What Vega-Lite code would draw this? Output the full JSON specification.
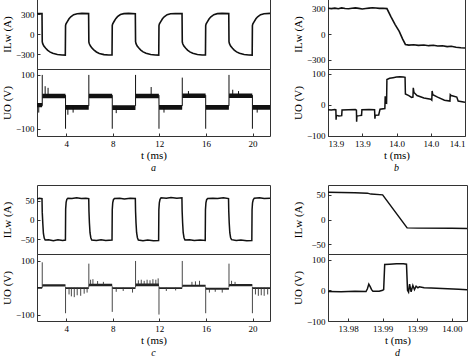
{
"$schema": "https://vega.github.io/schema/vega-lite/v6.json",
"padding": {"left": 0, "top": -2, "right": 0, "bottom": 0},
"background": "white",
"config": {
  "font": "Liberation Serif",
  "view": {"stroke": "#333", "strokeWidth": 1},
  "axis": {"grid": false, "domain": false, "ticks": true, "tickSize": -3, "tickColor": "#333", "labelFontSize": 9, "labelColor": "#000", "titleFontSize": 11, "titleFontWeight": "normal", "titleColor": "#000", "labelPadding": 6, "titlePadding": 1},
  "axisY": {"titleX": -25},
  "title": {"fontSize": 10, "fontStyle": "italic", "fontWeight": "normal", "font": "Liberation Serif", "offset": 3, "color": "#000"}
},
"datasets": {
  "aI": [
    {"t":1.5,"v":306},{"t":1.7,"v":305},{"t":1.93,"v":305},
    {"t":1.95,"v":-115},{"t":1.99,"v":-145},{"t":2.09,"v":-180},{"t":2.25,"v":-215},{"t":2.4,"v":-242},{"t":2.6,"v":-268},{"t":2.85,"v":-290},{"t":3.25,"v":-308},{"t":3.65,"v":-315},{"t":3.93,"v":-316},
    {"t":3.95,"v":125},{"t":3.99,"v":152},{"t":4.09,"v":182},{"t":4.25,"v":228},{"t":4.4,"v":258},{"t":4.65,"v":290},{"t":4.95,"v":304},{"t":5.35,"v":309},{"t":5.93,"v":306},
    {"t":5.95,"v":-118},{"t":5.99,"v":-146},{"t":6.09,"v":-182},{"t":6.25,"v":-216},{"t":6.4,"v":-243},{"t":6.6,"v":-270},{"t":6.85,"v":-291},{"t":7.25,"v":-309},{"t":7.65,"v":-316},{"t":7.94,"v":-315},
    {"t":7.96,"v":128},{"t":8.0,"v":154},{"t":8.1,"v":184},{"t":8.26,"v":230},{"t":8.41,"v":260},{"t":8.66,"v":291},{"t":8.96,"v":305},{"t":9.36,"v":309},{"t":9.94,"v":305},
    {"t":9.96,"v":-116},{"t":10.0,"v":-145},{"t":10.1,"v":-180},{"t":10.26,"v":-214},{"t":10.41,"v":-241},{"t":10.61,"v":-268},{"t":10.86,"v":-290},{"t":11.26,"v":-308},{"t":11.66,"v":-315},{"t":11.95,"v":-316},
    {"t":11.97,"v":126},{"t":12.01,"v":152},{"t":12.11,"v":183},{"t":12.27,"v":229},{"t":12.42,"v":259},{"t":12.67,"v":290},{"t":12.97,"v":304},{"t":13.37,"v":308},{"t":13.95,"v":306},
    {"t":13.97,"v":-117},{"t":14.01,"v":-146},{"t":14.11,"v":-181},{"t":14.27,"v":-215},{"t":14.42,"v":-242},{"t":14.62,"v":-269},{"t":14.87,"v":-290},{"t":15.27,"v":-308},{"t":15.67,"v":-316},{"t":15.96,"v":-315},
    {"t":15.98,"v":127},{"t":16.02,"v":153},{"t":16.12,"v":183},{"t":16.28,"v":229},{"t":16.43,"v":259},{"t":16.68,"v":290},{"t":16.98,"v":305},{"t":17.38,"v":309},{"t":17.96,"v":306},
    {"t":17.98,"v":-116},{"t":18.02,"v":-145},{"t":18.12,"v":-180},{"t":18.28,"v":-214},{"t":18.43,"v":-242},{"t":18.63,"v":-268},{"t":18.88,"v":-290},{"t":19.28,"v":-308},{"t":19.68,"v":-315},{"t":19.97,"v":-316},
    {"t":19.99,"v":126},{"t":20.03,"v":152},{"t":20.13,"v":182},{"t":20.29,"v":228},{"t":20.44,"v":258},{"t":20.69,"v":290},{"t":20.99,"v":304},{"t":21.5,"v":309}
  ],
  "aUb": [
    {"t":1.5,"lo":-20,"hi":-4},{"t":1.94,"lo":-20,"hi":-4},{"t":1.96,"lo":13,"hi":30},{"t":3.94,"lo":13,"hi":30},
    {"t":3.96,"lo":-29,"hi":-12},{"t":5.94,"lo":-29,"hi":-12},{"t":5.96,"lo":13,"hi":30},{"t":7.95,"lo":13,"hi":30},
    {"t":7.97,"lo":-30,"hi":-13},{"t":9.95,"lo":-30,"hi":-13},{"t":9.97,"lo":13,"hi":30},{"t":11.96,"lo":13,"hi":30},
    {"t":11.98,"lo":-29,"hi":-12},{"t":13.96,"lo":-29,"hi":-12},{"t":13.98,"lo":14,"hi":31},{"t":15.97,"lo":14,"hi":31},
    {"t":15.99,"lo":-29,"hi":-12},{"t":17.97,"lo":-29,"hi":-12},{"t":17.99,"lo":14,"hi":31},{"t":19.98,"lo":14,"hi":31},
    {"t":20.0,"lo":-29,"hi":-12},{"t":21.5,"lo":-29,"hi":-12}
  ],
  "aUs": [
    {"t":1.95,"lo":-15,"hi":100},{"t":2.2,"lo":25,"hi":58},{"t":2.45,"lo":25,"hi":52},{"t":1.65,"lo":-40,"hi":-10},
    {"t":3.95,"lo":-100,"hi":25},{"t":4.15,"lo":-48,"hi":-15},{"t":4.6,"lo":-40,"hi":-15},{"t":5.95,"lo":-15,"hi":100},
    {"t":7.96,"lo":-100,"hi":25},{"t":8.3,"lo":-42,"hi":-15},{"t":9.96,"lo":-15,"hi":100},{"t":11.3,"lo":25,"hi":55},
    {"t":11.97,"lo":-100,"hi":25},{"t":12.4,"lo":-40,"hi":-15},{"t":13.97,"lo":-15,"hi":90},{"t":14.5,"lo":25,"hi":40},
    {"t":15.98,"lo":-100,"hi":25},{"t":17.98,"lo":-15,"hi":100},{"t":18.3,"lo":25,"hi":45},{"t":18.8,"lo":25,"hi":40},
    {"t":19.99,"lo":-100,"hi":25},{"t":20.4,"lo":-40,"hi":-15}
  ],
  "bI": [
    {"t":13.9,"v":300},{"t":13.905,"v":296},{"t":13.91,"v":302},{"t":13.915,"v":295},{"t":13.92,"v":304},{"t":13.925,"v":298},{"t":13.93,"v":295},{"t":13.935,"v":301},{"t":13.94,"v":305},{"t":13.945,"v":299},{"t":13.95,"v":292},{"t":13.955,"v":297},{"t":13.96,"v":302},{"t":13.965,"v":306},{"t":13.97,"v":303},{"t":13.975,"v":299},{"t":13.98,"v":301},{"t":13.986,"v":296},
    {"t":13.992,"v":200},{"t":13.998,"v":110},{"t":14.004,"v":30},{"t":14.009,"v":-60},{"t":14.013,"v":-122},
    {"t":14.018,"v":-130},{"t":14.025,"v":-126},{"t":14.032,"v":-133},{"t":14.04,"v":-128},{"t":14.047,"v":-136},{"t":14.054,"v":-131},{"t":14.06,"v":-140},{"t":14.067,"v":-137},{"t":14.074,"v":-147},{"t":14.08,"v":-143},{"t":14.087,"v":-155},{"t":14.094,"v":-160},{"t":14.1,"v":-163}
  ],
  "bU": [
    {"t":13.9,"v":-16},{"t":13.905,"v":-17},{"t":13.91,"v":-15},{"t":13.9115,"v":-16},{"t":13.9118,"v":-48},{"t":13.9122,"v":-34},{"t":13.916,"v":-36},{"t":13.92,"v":-35},{"t":13.9205,"v":-17},
    {"t":13.93,"v":-16},{"t":13.94,"v":-15},{"t":13.9415,"v":-17},{"t":13.9418,"v":-55},{"t":13.9422,"v":-36},{"t":13.946,"v":-35},{"t":13.949,"v":-34},{"t":13.9495,"v":-16},
    {"t":13.96,"v":-15},{"t":13.968,"v":-16},{"t":13.9685,"v":-45},{"t":13.969,"v":-34},{"t":13.974,"v":-33},{"t":13.976,"v":-14},{"t":13.983,"v":-12},{"t":13.9835,"v":28},{"t":13.984,"v":6},{"t":13.9855,"v":5},
    {"t":13.986,"v":82},{"t":13.99,"v":86},{"t":13.995,"v":88},{"t":14.0,"v":90},{"t":14.005,"v":91},{"t":14.01,"v":90},{"t":14.0125,"v":89},
    {"t":14.013,"v":35},{"t":14.018,"v":30},{"t":14.022,"v":24},{"t":14.024,"v":25},{"t":14.0245,"v":55},{"t":14.0255,"v":40},{"t":14.03,"v":30},{"t":14.04,"v":22},{"t":14.05,"v":18},{"t":14.0515,"v":15},
    {"t":14.052,"v":45},{"t":14.053,"v":33},{"t":14.06,"v":25},{"t":14.07,"v":15},{"t":14.078,"v":12},{"t":14.0785,"v":33},{"t":14.08,"v":30},{"t":14.088,"v":25},{"t":14.09,"v":12},{"t":14.1,"v":8}
  ],
  "cI": [
    {"t":1.5,"v":54},{"t":1.7,"v":56},{"t":1.93,"v":55},
    {"t":1.95,"v":20},{"t":2.0,"v":-10},{"t":2.05,"v":-35},{"t":2.12,"v":-47},{"t":2.2,"v":-52},{"t":2.5,"v":-51},{"t":2.9,"v":-54},{"t":3.3,"v":-51},{"t":3.7,"v":-53},{"t":3.94,"v":-52},
    {"t":3.96,"v":28},{"t":4.0,"v":45},{"t":4.06,"v":53},{"t":4.15,"v":56},{"t":4.5,"v":55},{"t":4.9,"v":57},{"t":5.3,"v":55},{"t":5.7,"v":56},{"t":5.94,"v":55},
    {"t":5.96,"v":22},{"t":6.0,"v":-8},{"t":6.05,"v":-33},{"t":6.12,"v":-46},{"t":6.2,"v":-52},{"t":6.6,"v":-53},{"t":7.0,"v":-51},{"t":7.4,"v":-53},{"t":7.94,"v":-52},
    {"t":7.96,"v":26},{"t":8.0,"v":44},{"t":8.06,"v":52},{"t":8.15,"v":55},{"t":8.6,"v":56},{"t":9.0,"v":54},{"t":9.5,"v":56},{"t":9.94,"v":55},
    {"t":9.96,"v":22},{"t":10.0,"v":-8},{"t":10.05,"v":-33},{"t":10.12,"v":-46},{"t":10.2,"v":-52},{"t":10.6,"v":-54},{"t":11.0,"v":-52},{"t":11.5,"v":-54},{"t":11.94,"v":-53},
    {"t":11.96,"v":26},{"t":12.0,"v":44},{"t":12.06,"v":53},{"t":12.15,"v":57},{"t":12.6,"v":56},{"t":13.0,"v":58},{"t":13.5,"v":56},{"t":13.94,"v":57},
    {"t":13.96,"v":22},{"t":14.0,"v":-8},{"t":14.05,"v":-33},{"t":14.12,"v":-46},{"t":14.2,"v":-52},{"t":14.6,"v":-51},{"t":15.0,"v":-53},{"t":15.5,"v":-52},{"t":15.94,"v":-53},
    {"t":15.96,"v":26},{"t":16.0,"v":44},{"t":16.06,"v":52},{"t":16.15,"v":55},{"t":16.6,"v":56},{"t":17.0,"v":55},{"t":17.5,"v":57},{"t":17.94,"v":55},
    {"t":17.96,"v":22},{"t":18.0,"v":-8},{"t":18.05,"v":-33},{"t":18.12,"v":-46},{"t":18.2,"v":-51},{"t":18.6,"v":-53},{"t":19.0,"v":-52},{"t":19.5,"v":-54},{"t":19.94,"v":-53},
    {"t":19.96,"v":26},{"t":20.0,"v":44},{"t":20.06,"v":52},{"t":20.15,"v":56},{"t":20.6,"v":57},{"t":21.0,"v":55},{"t":21.5,"v":56}
  ],
  "cUb": [
    {"t":1.5,"lo":-4,"hi":3},{"t":1.94,"lo":-4,"hi":3},{"t":1.96,"lo":5,"hi":13},{"t":3.94,"lo":5,"hi":13},
    {"t":3.96,"lo":-5,"hi":2},{"t":5.94,"lo":-5,"hi":2},{"t":5.96,"lo":6,"hi":15},{"t":7.95,"lo":6,"hi":15},
    {"t":7.97,"lo":-5,"hi":2},{"t":9.95,"lo":-5,"hi":2},{"t":9.97,"lo":6,"hi":16},{"t":11.96,"lo":6,"hi":16},
    {"t":11.98,"lo":-5,"hi":2},{"t":13.96,"lo":-5,"hi":2},{"t":13.98,"lo":4,"hi":11},{"t":15.97,"lo":4,"hi":11},
    {"t":15.99,"lo":-7,"hi":0},{"t":17.97,"lo":-7,"hi":0},{"t":17.99,"lo":6,"hi":14},{"t":19.98,"lo":6,"hi":14},
    {"t":20.0,"lo":-5,"hi":2},{"t":21.5,"lo":-5,"hi":2}
  ],
  "cUs": [
    {"t":1.95,"lo":0,"hi":95},{"t":3.95,"lo":-95,"hi":3},{"t":4.25,"lo":-25,"hi":0},{"t":4.45,"lo":-32,"hi":0},{"t":4.7,"lo":-35,"hi":0},{"t":4.95,"lo":-28,"hi":0},{"t":5.25,"lo":-30,"hi":0},{"t":5.55,"lo":-22,"hi":0},{"t":5.8,"lo":-18,"hi":0},
    {"t":5.95,"lo":2,"hi":90},{"t":6.1,"lo":12,"hi":30},{"t":6.3,"lo":12,"hi":32},{"t":6.7,"lo":12,"hi":25},{"t":7.2,"lo":12,"hi":22},
    {"t":7.96,"lo":-90,"hi":5},{"t":8.3,"lo":-15,"hi":0},{"t":8.9,"lo":-12,"hi":0},{"t":9.7,"lo":-18,"hi":0},
    {"t":9.96,"lo":2,"hi":100},{"t":10.2,"lo":12,"hi":28},{"t":10.45,"lo":12,"hi":30},{"t":10.7,"lo":12,"hi":26},{"t":10.95,"lo":12,"hi":30},{"t":11.2,"lo":12,"hi":28},{"t":11.45,"lo":12,"hi":32},{"t":11.7,"lo":12,"hi":30},{"t":11.9,"lo":12,"hi":35},
    {"t":11.97,"lo":-100,"hi":5},{"t":12.6,"lo":-12,"hi":0},{"t":13.4,"lo":-10,"hi":0},
    {"t":13.97,"lo":2,"hi":100},{"t":14.8,"lo":10,"hi":22},{"t":15.1,"lo":10,"hi":24},{"t":15.45,"lo":10,"hi":26},
    {"t":15.98,"lo":-95,"hi":3},{"t":16.3,"lo":-18,"hi":-2},{"t":16.8,"lo":-15,"hi":-2},{"t":17.4,"lo":-18,"hi":-2},
    {"t":17.98,"lo":2,"hi":90},{"t":18.2,"lo":12,"hi":26},{"t":18.5,"lo":12,"hi":22},
    {"t":19.99,"lo":-95,"hi":3},{"t":20.25,"lo":-25,"hi":0},{"t":20.5,"lo":-30,"hi":0},{"t":20.75,"lo":-28,"hi":0},{"t":21.0,"lo":-30,"hi":0},{"t":21.3,"lo":-25,"hi":0}
  ],
  "dI": [
    {"t":13.9771,"v":55.5},{"t":13.979,"v":55},{"t":13.981,"v":54.5},{"t":13.9828,"v":53.5},{"t":13.9833,"v":51.5},{"t":13.985,"v":50},{"t":13.98854,"v":-17},{"t":13.99,"v":-17.5},{"t":13.995,"v":-18},{"t":13.9972,"v":-18.5}
  ],
  "dU": [
    {"t":13.9771,"v":-4},{"t":13.979,"v":-5},{"t":13.981,"v":-3},{"t":13.9826,"v":-4},{"t":13.9828,"v":5},{"t":13.983,"v":20},{"t":13.9832,"v":12},{"t":13.9834,"v":2},{"t":13.9836,"v":-3},{"t":13.9845,"v":-3},{"t":13.985,"v":0},{"t":13.98515,"v":2},
    {"t":13.9853,"v":84},{"t":13.986,"v":85},{"t":13.987,"v":86},{"t":13.988,"v":86},{"t":13.98845,"v":85},
    {"t":13.9886,"v":0},{"t":13.98875,"v":-6},{"t":13.9889,"v":20},{"t":13.98912,"v":-5},{"t":13.98937,"v":16},{"t":13.9896,"v":2},{"t":13.98984,"v":13},{"t":13.9901,"v":8},{"t":13.9903,"v":11},{"t":13.991,"v":8},{"t":13.992,"v":7},{"t":13.9944,"v":5},{"t":13.996,"v":3},{"t":13.9972,"v":2}
  ]
},
"vconcat": [
  {"hconcat": [
    {"vconcat": [
      {"width": 233, "height": 70, "data": {"name": "aI"}, "mark": {"type": "line", "color": "#111", "strokeWidth": 1.6, "clip": true},
       "encoding": {
         "x": {"field": "t", "type": "quantitative", "scale": {"domain": [1.5, 21.5], "nice": false, "zero": false}, "axis": null},
         "y": {"field": "v", "type": "quantitative", "scale": {"domain": [-525, 525], "nice": false, "zero": false}, "axis": {"values": [-300, 0, 300], "title": "ILw (A)"}}
       }},
      {"width": 233, "height": 67, "title": {"text": "a", "orient": "bottom"},
       "layer": [
         {"data": {"name": "aUb"}, "mark": {"type": "area", "color": "#111", "opacity": 1, "clip": true},
          "encoding": {
            "x": {"field": "t", "type": "quantitative", "scale": {"domain": [1.5, 21.5], "nice": false, "zero": false}, "axis": {"values": [4, 8, 12, 16, 20], "title": "t (ms)"}},
            "y": {"field": "lo", "type": "quantitative", "scale": {"domain": [-127, 122], "nice": false, "zero": false}, "axis": {"values": [-100, 0, 100], "title": "UO (V)"}},
            "y2": {"field": "hi"}
          }},
         {"data": {"name": "aUs"}, "mark": {"type": "rule", "color": "#111", "strokeWidth": 1, "clip": true},
          "encoding": {"x": {"field": "t", "type": "quantitative"}, "y": {"field": "lo", "type": "quantitative"}, "y2": {"field": "hi"}}}
       ]}
    ], "spacing": 0, "bounds": "flush"},
    {"vconcat": [
      {"width": 137, "height": 70, "data": {"name": "bI"}, "mark": {"type": "line", "color": "#111", "strokeWidth": 1.6, "clip": true},
       "encoding": {
         "x": {"field": "t", "type": "quantitative", "scale": {"domain": [13.9, 14.1], "nice": false, "zero": false}, "axis": null},
         "y": {"field": "v", "type": "quantitative", "scale": {"domain": [-408, 408], "nice": false, "zero": false}, "axis": {"values": [-300, 0, 300], "title": "ILw (A)"}}
       }},
      {"width": 137, "height": 67, "title": {"text": "b", "orient": "bottom"}, "data": {"name": "bU"}, "mark": {"type": "line", "color": "#111", "strokeWidth": 1.5, "clip": true},
       "encoding": {
         "x": {"field": "t", "type": "quantitative", "scale": {"domain": [13.9, 14.1], "nice": false, "zero": false}, "axis": {"values": [13.9, 13.95, 14.0, 14.05, 14.1], "labelExpr": "datum.value < 13.97 ? '13.9' : datum.value < 14.07 ? '14.0' : '14.1'", "title": "t (ms)"}},
         "y": {"field": "v", "type": "quantitative", "scale": {"domain": [-101, 116], "nice": false, "zero": false}, "axis": {"values": [-100, 0, 100], "title": "UO (V)"}}
       }}
    ], "spacing": 0, "bounds": "flush"}
  ], "spacing": 20},
  {"hconcat": [
    {"vconcat": [
      {"width": 233, "height": 69, "data": {"name": "cI"}, "mark": {"type": "line", "color": "#111", "strokeWidth": 1.5, "clip": true},
       "encoding": {
         "x": {"field": "t", "type": "quantitative", "scale": {"domain": [1.5, 21.5], "nice": false, "zero": false}, "axis": null},
         "y": {"field": "v", "type": "quantitative", "scale": {"domain": [-88, 90], "nice": false, "zero": false}, "axis": {"values": [-50, 0, 50], "title": "ILw (A)"}}
       }},
      {"width": 233, "height": 67, "title": {"text": "c", "orient": "bottom"},
       "layer": [
         {"data": {"name": "cUb"}, "mark": {"type": "area", "color": "#222", "opacity": 1, "clip": true},
          "encoding": {
            "x": {"field": "t", "type": "quantitative", "scale": {"domain": [1.5, 21.5], "nice": false, "zero": false}, "axis": {"values": [4, 8, 12, 16, 20], "title": "t (ms)"}},
            "y": {"field": "lo", "type": "quantitative", "scale": {"domain": [-124, 126], "nice": false, "zero": false}, "axis": {"values": [-100, 0, 100], "title": "UO (V)"}},
            "y2": {"field": "hi"}
          }},
         {"data": {"name": "cUs"}, "mark": {"type": "rule", "color": "#333", "strokeWidth": 0.9, "clip": true},
          "encoding": {"x": {"field": "t", "type": "quantitative"}, "y": {"field": "lo", "type": "quantitative"}, "y2": {"field": "hi"}}}
       ]}
    ], "spacing": 0, "bounds": "flush"},
    {"vconcat": [
      {"width": 139, "height": 69, "data": {"name": "dI"}, "mark": {"type": "line", "color": "#111", "strokeWidth": 1.5, "clip": true},
       "encoding": {
         "x": {"field": "t", "type": "quantitative", "scale": {"domain": [13.9771, 13.9972], "nice": false, "zero": false}, "axis": null},
         "y": {"field": "v", "type": "quantitative", "scale": {"domain": [-70, 70], "nice": false, "zero": false}, "axis": {"values": [-50, 0, 50], "title": "ILw (A)"}}
       }},
      {"width": 139, "height": 67, "title": {"text": "d", "orient": "bottom"}, "data": {"name": "dU"}, "mark": {"type": "line", "color": "#111", "strokeWidth": 1.5, "clip": true},
       "encoding": {
         "x": {"field": "t", "type": "quantitative", "scale": {"domain": [13.9771, 13.9972], "nice": false, "zero": false}, "axis": {"values": [13.98, 13.985, 13.99, 13.995], "labelExpr": "datum.value < 13.982 ? '13.98' : datum.value < 13.993 ? '13.99' : '14.00'", "title": "t (ms)"}},
         "y": {"field": "v", "type": "quantitative", "scale": {"domain": [-100, 118], "nice": false, "zero": false}, "axis": {"values": [-100, 0, 100], "title": "UO (V)"}}
       }}
    ], "spacing": 0, "bounds": "flush"}
  ], "spacing": 20}
],
"spacing": 10
}
